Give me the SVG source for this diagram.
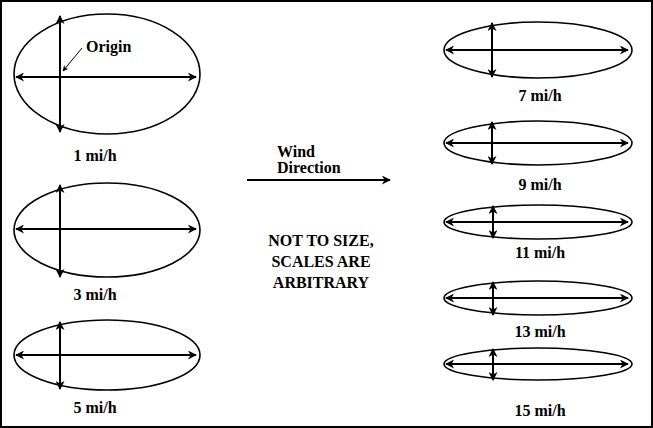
<svg xmlns="http://www.w3.org/2000/svg" width="653" height="428" viewBox="0 0 653 428">
<style>
.e{fill:none;stroke:#000;stroke-width:1.6}
.a{stroke:#000;stroke-width:2;fill:none}
text{font-family:"Liberation Serif","Times New Roman",serif;font-weight:bold;font-size:16px;fill:#000}
.c{text-anchor:middle}
</style>
<defs>
<marker id="h" viewBox="0 0 10 10" refX="9" refY="5" markerWidth="11" markerHeight="9" orient="auto-start-reverse" markerUnits="userSpaceOnUse"><path d="M0,0 L10,5 L0,10 L3,5 Z" fill="#000"/></marker>
<marker id="hs" viewBox="0 0 10 10" refX="9" refY="5" markerWidth="6" markerHeight="6" orient="auto" markerUnits="userSpaceOnUse"><path d="M0,0 L10,5 L0,10 L3,5 Z" fill="#000"/></marker>
</defs>
<rect x="1" y="1" width="651" height="426" fill="#fff" stroke="#000" stroke-width="2"/>
<g id="e1"><ellipse class="e" cx="107" cy="74" rx="93" ry="60"/><text class="c" x="95" y="161">1 mi/h</text><text x="86" y="52">Origin</text></g>
<g id="e3"><ellipse class="e" cx="107" cy="230" rx="93" ry="47"/><text class="c" x="95" y="300">3 mi/h</text></g>
<g id="e5"><ellipse class="e" cx="107" cy="355" rx="93" ry="35"/><text class="c" x="95" y="413">5 mi/h</text></g>
<g id="e7"><ellipse class="e" cx="538" cy="50" rx="94" ry="28"/><text class="c" x="540" y="101">7 mi/h</text></g>
<g id="e9"><ellipse class="e" cx="538" cy="143" rx="94" ry="22"/><text class="c" x="540" y="190">9 mi/h</text></g>
<g id="e11"><ellipse class="e" cx="538" cy="222" rx="94" ry="17"/><text class="c" x="540" y="258">11 mi/h</text></g>
<g id="e13"><ellipse class="e" cx="538" cy="298" rx="94" ry="17"/><text class="c" x="540" y="337">13 mi/h</text></g>
<g id="e15"><ellipse class="e" cx="538" cy="364" rx="94" ry="16"/><text class="c" x="540" y="416">15 mi/h</text></g>
<g id="notes"><text x="277" y="157">Wind</text><text x="277" y="173">Direction</text>
<text class="c" x="321" y="246">NOT TO SIZE,</text><text class="c" x="321" y="267">SCALES ARE</text><text class="c" x="321" y="288">ARBITRARY</text></g>
<g id="connectors" class="a" marker-start="url(#h)" marker-end="url(#h)">
<line x1="16" y1="77" x2="196" y2="77"/><line x1="60" y1="16" x2="60" y2="132"/>
<line x1="16" y1="229" x2="196" y2="229"/><line x1="60" y1="185" x2="60" y2="277"/>
<line x1="16" y1="355" x2="196" y2="355"/><line x1="60" y1="322" x2="60" y2="389"/>
<line x1="446" y1="50" x2="628" y2="50"/><line x1="492" y1="23" x2="492" y2="77"/>
<line x1="446" y1="143" x2="628" y2="143"/><line x1="492" y1="122" x2="492" y2="164"/>
<line x1="446" y1="222" x2="628" y2="222"/><line x1="493" y1="206" x2="493" y2="238"/>
<line x1="446" y1="298" x2="628" y2="298"/><line x1="493" y1="282" x2="493" y2="315"/>
<line x1="446" y1="364" x2="628" y2="364"/><line x1="493" y1="349" x2="493" y2="380"/>
<line x1="247" y1="180" x2="390" y2="180" marker-start="none"/>
<line x1="82" y1="48" x2="63" y2="71" stroke-width="1" marker-start="none" marker-end="url(#hs)"/>
</g>
</svg>
